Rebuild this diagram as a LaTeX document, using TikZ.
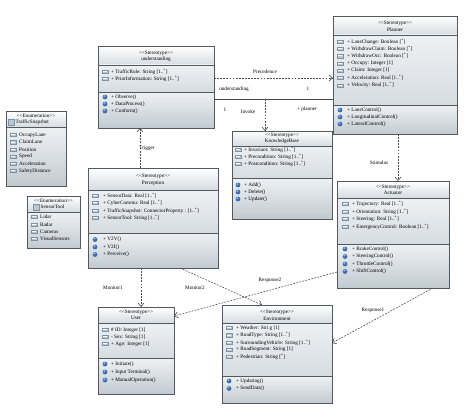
\documentclass[tikz,border=0pt]{standalone}
\usepackage{fontspec}
\setmainfont{Liberation Serif}
\usetikzlibrary{arrows.meta,calc}
\definecolor{bordc}{HTML}{55595D}
\definecolor{clsA}{HTML}{EEF1F3}
\definecolor{clsB}{HTML}{D6DCE1}
\definecolor{clsC}{HTML}{C2CAD1}
\definecolor{attrF}{HTML}{B9C7D3}
\definecolor{attrD}{HTML}{7E92A4}
\definecolor{opF}{HTML}{3E6DB3}
\definecolor{opL}{HTML}{A9C3E6}
\definecolor{lnc}{HTML}{4A4A4A}
\tikzset{
  x=1pt, y=-1pt,
  clsbox/.style={draw=bordc, line width=0.7pt, rectangle, inner sep=0pt, outer sep=0pt},
  seprule/.style={draw=bordc, line width=0.6pt},
  hdr/.style={font=\fontsize{5.2}{6}\selectfont, inner sep=0pt},
  txt/.style={font=\fontsize{5.2}{6}\selectfont, inner sep=0pt, anchor=west},
  lbl/.style={font=\fontsize{5.2}{6}\selectfont, inner sep=0pt},
  dep/.style={draw=lnc, line width=0.6pt, dash pattern=on 1.8pt off 1.3pt, -{Straight Barb[length=3.5pt,width=6pt]}},
  assoc/.style={draw=lnc, line width=0.6pt},
  attricon/.style={draw=attrD, fill=attrF, line width=0.3pt},
}
% class box: name, x1, y1, x2, y2, sep1, sep2
\newcommand{\umlcls}[7]{%
  \shade[top color=white, bottom color=clsB] (#2,#3) rectangle (#4,#6);
  \shade[top color=clsA, bottom color=clsB] (#2,#6) rectangle (#4,#7);
  \shade[top color=clsA, bottom color=clsC] (#2,#7) rectangle (#4,#5);
  \draw[seprule] (#2,#6) -- (#4,#6);
  \draw[seprule] (#2,#7) -- (#4,#7);
  \node[clsbox, minimum width={(#4-#2)*1pt}, minimum height={(#5-#3)*1pt}] (#1) at ({(#2+#4)/2},{(#3+#5)/2}) {};
}
% enumeration: name, x1, y1, x2, y2, sep
\newcommand{\umlenum}[6]{%
  \shade[top color=white, bottom color=clsB] (#2,#3) rectangle (#4,#6);
  \shade[top color=clsA, bottom color=clsC] (#2,#6) rectangle (#4,#5);
  \draw[seprule] (#2,#6) -- (#4,#6);
  \node[clsbox, minimum width={(#4-#2)*1pt}, minimum height={(#5-#3)*1pt}] (#1) at ({(#2+#4)/2},{(#3+#5)/2}) {};
}
\newcommand{\hdrtxt}[3]{\node[hdr] at (#1,#2) {#3};}
% attribute line: icon x, text x, y, text
\newcommand{\attrline}[4]{%
  \draw[attricon] ({#1-2.8},{#3-1.6}) rectangle ({#1+2.8},{#3+1.6});
  \draw[white, line width=0.4pt] ({#1-1.8},{#3-0.5}) -- ({#1+1.8},{#3-0.5});
  \node[txt] at (#2,#3) {#4};}
\newcommand{\opline}[4]{%
  \fill[opF] (#1,#3) circle (2.4);
  \fill[opL] ({#1-0.5},{#3-0.7}) circle (1.1);
  \fill[opF!80!black] (#1,#3) circle (0.7);
  \node[txt] at (#2,#3) {#4};}
\newcommand{\lt}{\textless\kern0pt\textless}
\newcommand{\gt}{\textgreater\kern0pt\textgreater}
\newcommand{\stereo}{\lt Stereotype\gt}
\newcommand{\enumst}{\lt Enumeration\gt}
\newcommand{\mult}{[1..\textsuperscript{*}]}
\newcommand{\anym}{[\textsuperscript{*}]}
\begin{document}
\begin{tikzpicture}
\useasboundingbox[fill=white] (0,0) rectangle (474,420);

% ---------- understanding ----------
\umlcls{und}{98}{46}{214}{128}{65}{92}
\hdrtxt{156}{53}{\stereo}
\hdrtxt{156}{59.5}{understanding}
\attrline{105}{111}{72}{+ TrafficRule: String \mult}
\attrline{105}{111}{79}{+ PriorInformation: String \mult}
\opline{105}{111}{97}{+ Observe()}
\opline{105}{111}{104}{+ DataProcess()}
\opline{105}{111}{111}{+ Conform()}

% ---------- Planner ----------
\umlcls{pla}{333}{16}{457}{134}{35}{105}
\hdrtxt{395}{23}{\stereo}
\hdrtxt{395}{29.5}{Planner}
\attrline{340}{347}{41.5}{+ LaneChange: Boolean \anym}
\attrline{340}{347}{48.8}{+ WithdrawClaim: Boolean \anym}
\attrline{340}{347}{56.1}{+ WithdrawOcc: Boolean \anym}
\attrline{340}{347}{63.4}{+ Occupy: Integer [1]}
\attrline{340}{347}{70.7}{+ Claim: Integer [1]}
\attrline{340}{347}{78}{+ Acceleration: Real \mult}
\attrline{340}{347}{85.3}{+ Velocity: Real \mult}
\opline{340}{347}{110}{+ LaneControl()}
\opline{340}{347}{117}{+ LongitudinalControl()}
\opline{340}{347}{124}{+ LateralControl()}

% ---------- TrafficSnapshot ----------
\umlenum{tsn}{6}{111}{66}{186}{127}
\hdrtxt{36}{115.5}{\enumst}
\draw[attricon] (8.5,119.5) rectangle (14.5,125);
\node[txt] at (15.5,122) {TrafficSnapshot};
\attrline{13}{19}{135}{OccupyLane}
\attrline{13}{19}{142.2}{ClaimLane}
\attrline{13}{19}{149.4}{Position}
\attrline{13}{19}{156.6}{Speed}
\attrline{13}{19}{163.8}{Acceleration}
\attrline{13}{19}{171}{SafetyDistance}

% ---------- SensorTool ----------
\umlenum{stl}{27}{196}{80}{248}{212}
\hdrtxt{53.5}{200.5}{\enumst}
\draw[attricon] (33,204.5) rectangle (39,210);
\node[txt] at (40.5,207) {SensorTool};
\attrline{34}{40}{217}{Lidar}
\attrline{34}{40}{224.3}{Radar}
\attrline{34}{40}{231.6}{Cameras}
\attrline{34}{40}{238.9}{VisualSensors}

% ---------- KnowledgeBase ----------
\umlcls{kb}{232}{131}{332}{219}{146}{178}
\hdrtxt{282}{135.5}{\stereo}
\hdrtxt{282}{141.5}{KnowledgeBase}
\attrline{238}{244}{150}{+ Invariant: String \mult}
\attrline{238}{244}{157}{+ Precondition: String \mult}
\attrline{238}{244}{164}{+ Postcondition: String \mult}
\opline{238}{244}{185}{+ Add()}
\opline{238}{244}{192}{+ Delete()}
\opline{238}{244}{199}{+ Update()}

% ---------- Perception ----------
\umlcls{per}{88}{168}{218}{268}{190}{233}
\hdrtxt{153}{176.5}{\stereo}
\hdrtxt{153}{183}{Perception}
\attrline{95}{103}{195.5}{+ SensorData: Real \mult}
\attrline{95}{103}{203}{+ CyberCommu: Real \mult}
\attrline{95}{103}{210.5}{+ TrafficSnapshot: ConnectorProperty : \mult}
\attrline{95}{103}{218}{+ SensorTool: String \mult}
\opline{95}{103}{239.5}{+ V2V()}
\opline{95}{103}{247}{+ V2I()}
\opline{95}{103}{254.5}{+ Perceive()}

% ---------- Actuator ----------
\umlcls{act}{337}{181}{449}{288}{198}{244}
\hdrtxt{393}{187}{\stereo}
\hdrtxt{393}{193}{Actuator}
\attrline{345}{352}{204}{+ Trajectory: Real \mult}
\attrline{345}{352}{211.5}{+ Orientation: String \mult}
\attrline{345}{352}{219}{+ Steering: Real \mult}
\attrline{345}{352}{226.5}{+ EmergencyControl: Boolean \mult}
\opline{345}{352}{249}{+ BrakeControl()}
\opline{345}{352}{256.5}{+ SteeringControl()}
\opline{345}{352}{264}{+ ThrottleControl()}
\opline{345}{352}{271.5}{+ ShiftControl()}

% ---------- User ----------
\umlcls{usr}{98}{307}{174}{394}{323}{358}
\hdrtxt{136}{312}{\stereo}
\hdrtxt{136}{318}{User}
\attrline{105}{111}{330}{\# ID: Integer [1]}
\attrline{105}{111}{337}{- Sex: String [1]}
\attrline{105}{111}{344}{+ Age: Integer [1]}
\opline{105}{111}{364}{+ Initiate()}
\opline{105}{111}{372}{+ Input Terminal()}
\opline{105}{111}{380}{+ ManualOperation()}

% ---------- Environment ----------
\umlcls{env}{222}{305}{332}{403}{323}{376}
\hdrtxt{277}{312.5}{\stereo}
\hdrtxt{277}{318.5}{Environment}
\attrline{229}{236}{328}{+ Weather: Stri g [1]}
\attrline{229}{236}{335.2}{+ RoadType: String \mult}
\attrline{229}{236}{342.4}{+ SurroundingVehicle: String \mult}
\attrline{229}{236}{349.6}{+ RoadSegment: String [1]}
\attrline{229}{236}{356.8}{+ Pedestrian: String \anym}
\opline{229}{236}{381}{+ Updating()}
\opline{229}{236}{388.5}{+ SendData()}

% ---------- connectors ----------
% Precedence
\coordinate (precA) at (und.east |- 0,78);
\coordinate (precB) at (pla.west |- 0,78);
\draw[dep] (precA) -- (precB);
\node[lbl] at (265,72) {Precedence};
% association understanding -- planner
\coordinate (asA) at (und.east |- 0,99);
\coordinate (asB) at (pla.west |- 0,99);
\draw[assoc] (asA) -- (asB);
\node[lbl] at (234,89) {understanding};
\node[lbl] at (308,89) {1};
\node[lbl] at (225,110) {1};
\node[lbl] at (307,109) {+ planner};
% Invoke
\coordinate (invA) at (265,99);
\coordinate (invB) at (kb.north -| 265,0);
\draw[dep] (invA) -- (invB);
\node[lbl] at (248,112) {Invoke};
% Trigger
\coordinate (trA) at (per.north -| 140,0);
\coordinate (trB) at (und.south -| 140,0);
\draw[dep] (trA) -- (trB);
\node[lbl] at (147,148) {Trigger};
% Stimulus
\coordinate (stA) at (pla.south -| 398,0);
\coordinate (stB) at (act.north -| 398,0);
\draw[dep] (stA) -- (stB);
\node[lbl] at (379,163) {Stimulus};
% Monitor1
\coordinate (m1A) at (per.south -| 141,0);
\coordinate (m1B) at (usr.north -| 141,0);
\draw[dep] (m1A) -- (m1B);
\node[lbl] at (113,288) {Monitor1};
% Monitor2
\coordinate (m2A) at (per.south -| 180,0);
\coordinate (m2B) at (env.north -| 262,0);
\draw[dep] (m2A) -- (m2B);
\node[lbl] at (195,288) {Monitor2};
% Response2
\coordinate (r2A) at (act.west |- 0,272);
\coordinate (r2B) at (usr.east |- 0,316);
\draw[dep] (r2A) -- (r2B);
\node[lbl] at (270,280) {Response2};
% Response1
\coordinate (r1A) at (act.south -| 433,0);
\coordinate (r1B) at (env.east |- 0,343);
\draw[dep] (r1A) -- (r1B);
\node[lbl] at (373,310) {Response1};
\end{tikzpicture}
\end{document}
